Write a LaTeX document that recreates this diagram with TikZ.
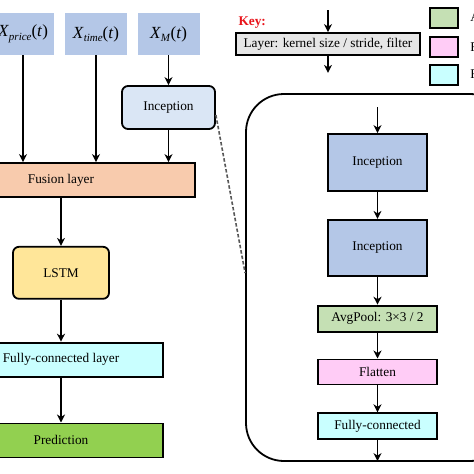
\documentclass[tikz,border=0pt]{standalone}
\usepackage{fontspec}
\setmainfont{Liberation Serif}
\usetikzlibrary{arrows.meta, positioning, calc}
\definecolor{inblue}{HTML}{B4C7E7}
\definecolor{incpale}{HTML}{DAE6F5}
\definecolor{fusorange}{HTML}{F8CBAD}
\definecolor{lstmyellow}{HTML}{FFE699}
\definecolor{fccyan}{HTML}{C9FFFF}
\definecolor{predgreen}{HTML}{92D050}
\definecolor{keygray}{HTML}{E6E6E6}
\definecolor{keyred}{HTML}{E8141B}
\definecolor{poolgreen}{HTML}{C5E0B4}
\definecolor{flatpink}{HTML}{FFCCF6}
\newcommand{\boxfont}{\fontsize{13.3}{15}\selectfont}
\newcommand{\xin}[1]{\textit{X}\raisebox{-0.45ex}{\fontsize{11}{12}\selectfont\textit{#1}}(\textit{t})}
\tikzset{
  >={Stealth[length=8pt, width=8pt, inset=2.5pt]},
  input/.style  = {fill=inblue, minimum width=62pt, minimum height=42pt,
                   inner sep=1pt, font=\fontsize{17}{19}\selectfont},
  layer/.style  = {draw, line width=1.8pt, font=\boxfont, inner sep=2pt},
  rlayer/.style = {layer, rounded corners=6pt},
  swatch/.style = {draw, line width=1.6pt, minimum width=28pt, minimum height=20pt},
  arrow/.style  = {->, line width=1.5pt},
  link/.style   = {dashed, dash pattern=on 3.5pt off 2pt, line width=1.6pt, gray!70!black},
}
\begin{document}
\begin{tikzpicture}[x=1pt, y=-1pt]
  \useasboundingbox (0,0) rectangle (474,474);
  \clip (0,0) rectangle (474,474);

  % ---------------------------------------------------------------
  % left: fusion model
  % ---------------------------------------------------------------
  \node[input] (xp) at (23,34)    {\xin{price}};
  \node[input] (xt) at (96,34)    {\xin{time}};
  \node[input] (xm) at (168.5,34) {\xin{M}};

  \node[rlayer, fill=incpale, minimum width=93pt, minimum height=43pt]
    (incL) at (168.5,107.5) {Inception};
  \node[layer, fill=fusorange, minimum width=268pt, minimum height=34pt]
    (fus) at (61,180) {Fusion layer};
  \node[rlayer, fill=lstmyellow, minimum width=96pt, minimum height=52pt,
        below=48pt of fus] (lstm) {LSTM};
  \node[layer, fill=fccyan, minimum width=204pt, minimum height=34pt,
        below=42pt of lstm] (fcl) {Fully-connected  layer};
  \node[layer, fill=predgreen, minimum width=204pt, minimum height=34pt,
        below=45pt of fcl] (pred) {Prediction};

  \draw[arrow] (xm) -- (incL);
  \foreach \a in {xp, xt, incL}
    \draw[arrow] (\a.south) -- (\a.south |- fus.north);
  \foreach \a/\b in {fus/lstm, lstm/fcl, fcl/pred}
    \draw[arrow] (\a) -- (\b);

  % ---------------------------------------------------------------
  % key
  % ---------------------------------------------------------------
  \node[font=\boxfont\bfseries, text=keyred, anchor=west] (keyt) at (235,23) {Key:};
  \node[layer, fill=keygray, minimum width=184pt, minimum height=22pt, inner sep=1pt]
    (key) at (328,44) {Layer: kernel  size / stride, filter};
  \coordinate[above=22pt of key] (kin);
  \coordinate[below=17pt of key] (kout);
  \draw[arrow] (kin) -- (key);
  \draw[arrow] (key) -- (kout);

  \foreach \c/\t/\y [count=\i] in {poolgreen/AvgPool/18, flatpink/Flatten/47,
                                   fccyan/Fully-connected/75} {
    \node[swatch, fill=\c] (sw\i) at (444,\y) {};
    \node[font=\boxfont, right=8pt of sw\i] (swt\i) {\t};
  }

  % ---------------------------------------------------------------
  % right: inside the inception module
  % ---------------------------------------------------------------
  \node[draw, line width=1.8pt, rounded corners=38pt,
        minimum width=262pt, minimum height=367pt] (cnn) at (377,277.5) {};

  \node[layer, fill=inblue, minimum width=99pt, minimum height=57pt]
    (inc1) at (377.5,162.5) {Inception};
  \node[layer, fill=inblue, minimum width=99pt, minimum height=56pt,
        below=27pt of inc1] (inc2) {Inception};
  \node[layer, fill=poolgreen, minimum width=119pt, minimum height=26pt,
        below=28pt of inc2] (pool) {AvgPool: 3×3 / 2};
  \node[layer, fill=flatpink, minimum width=119pt, minimum height=25pt,
        below=26pt of pool] (flat) {Flatten};
  \node[layer, fill=fccyan, minimum width=119pt, minimum height=26pt,
        below=27pt of flat] (fcr) {Fully-connected};
  \coordinate[above=26pt of inc1] (cin);
  \coordinate[below=21pt of fcr] (cout);

  \foreach \a/\b in {cin/inc1, inc1/inc2, inc2/pool, pool/flat, flat/fcr, fcr/cout}
    \draw[arrow] (\a) -- (\b);

  % zoom link from the small inception block to the module
  \coordinate (dA) at ($(incL.east)+(0,7.5)$);
  \coordinate (dB) at ($(cnn.west)+(0,-4.5)$);
  \draw[link] (dA) -- (dB);
\end{tikzpicture}
\end{document}
